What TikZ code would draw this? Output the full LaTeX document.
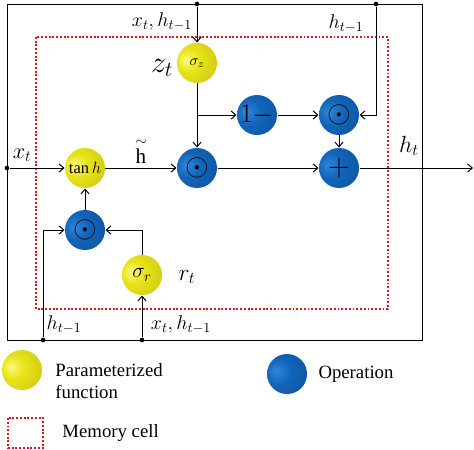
\RequirePackage{fix-cm}
\documentclass[tikz,border=0pt]{standalone}
\usepackage{amsmath}
\usepackage{fontspec}
\setmainfont{Liberation Serif}
\usepackage{tikz}
\usetikzlibrary{arrows,arrows.meta,shapes}
\usepackage{xcolor}
\definecolor{ylwhi}{RGB}{252,250,130}
\definecolor{ylw}{RGB}{232,228,25}
\definecolor{ylwlo}{RGB}{140,132,0}
\definecolor{bluhi}{RGB}{45,135,220}
\definecolor{blu}{RGB}{18,100,185}
\definecolor{blulo}{RGB}{8,50,110}
\definecolor{cellred}{RGB}{225,20,30}
\pgfdeclareradialshading{yball}{\pgfpoint{-14bp}{4bp}}{color(0bp)=(ylwhi); color(14bp)=(ylw); color(34bp)=(ylw!75!ylwlo); color(56bp)=(ylwlo); color(70bp)=(ylwlo)}
\pgfdeclareradialshading{bball}{\pgfpoint{-14bp}{4bp}}{color(0bp)=(bluhi); color(16bp)=(blu); color(36bp)=(blu!70!blulo); color(56bp)=(blulo); color(70bp)=(blulo)}

\begin{document}
\begin{tikzpicture}[x=0.03cm, y=-0.03cm, line width=0.85pt, >={Straight Barb[length=4pt,width=7pt]},
  par node/.style={circle, minimum size=1.2cm, inner sep=0pt, shade, shading=yball},
  op node/.style={circle, minimum size=1.2cm, inner sep=0pt, shade, shading=bball, font=\fontsize{26}{26}\selectfont},
  jdot/.style={circle, fill, inner sep=0pt, minimum size=4pt},
  lbl/.style={inner sep=0pt, font=\fontsize{17}{17}\selectfont},
  memcell/.style={cellred, line width=1.6pt, dash pattern=on 1.6pt off 1.6pt},
  leg/.style={inner sep=0pt, anchor=west, align=left, font=\fontsize{16}{18.8}\selectfont}]
\useasboundingbox (0,0) rectangle (474,450);
% frame and memory cell
\draw (7,4) rectangle (422,340);
\draw[memcell] (36,37) rectangle (388,309);
% nodes
\node[par node] (sz) at (197,63) {\fontsize{13}{13}\selectfont$\sigma_z$};
\node[par node] (th) at (85,168) {\fontsize{14}{14}\selectfont$\tan h$};
\node[par node] (sr) at (142,275) {\fontsize{18}{18}\selectfont$\sigma_r$};
\node[op node] (m1) at (197,168) {$\odot$};
\node[op node, font=\fontsize{23}{23}\selectfont] (om) at (257,115) {$1-$};
\node[op node] (m2) at (339,115) {$\odot$};
\node[op node] (pl) at (339,168) {$+$};
\node[op node] (m3) at (85,230) {$\odot$};
% junctions
\node[jdot] (j1) at (197,4) {};
\node[jdot] (j2) at (376,4) {};
\node[jdot] (j3) at (7,168) {};
\node[jdot] (j4) at (43,340) {};
\node[jdot] (j5) at (142,340) {};
\coordinate (br) at (197,115);
\coordinate (out) at (473,168);
% labels
\node[lbl] (l1) at (162,22) {$x_t, h_{t-1}$};
\node[lbl] (l2) at (346,24) {$h_{t-1}$};
\node[lbl, font=\fontsize{19}{19}\selectfont] (l3) at (22,155) {$x_t$};
\node[lbl, font=\fontsize{20}{20}\selectfont] (l4) at (409,146) {$h_t$};
\node[lbl, font=\fontsize{26}{26}\selectfont] (l5) at (162,68) {$z_t$};
\node[lbl, font=\fontsize{20}{20}\selectfont] (l6) at (187,277) {$r_t$};
\node[lbl] (l7) at (64,325) {$h_{t-1}$};
\node[lbl] (l8) at (181,325) {$x_t, h_{t-1}$};
% connectors
\path[->]
(j1) edge (sz)
(j3) edge (th)
(sz) edge (m1)
(br) edge (om)
(om) edge (m2)
(m2) edge (pl)
(th) edge node[lbl, above=3pt, font=\fontsize{18}{18}\selectfont] (ht) {$\overset{\sim}{\mathrm{h}}$} (m1)
(m1) edge (pl)
(pl) edge (out)
(m3) edge (th)
(j5) edge (sr);
\draw[->] (j2) |- (m2);
\draw[->] (j4) |- (m3);
\draw[->] (sr) |- (m3);
% legend
\node[par node] (k1) at (22,370) {};
\node[leg] (t1) at (55,381) {Parameterized\\function};
\node[op node] (k2) at (287,374) {};
\node[leg] (t2) at (318,374) {Operation};
\draw[memcell] (8,418) rectangle (43,448);
\node[leg] (t3) at (62,433) {Memory cell};
\end{tikzpicture}
\end{document}
